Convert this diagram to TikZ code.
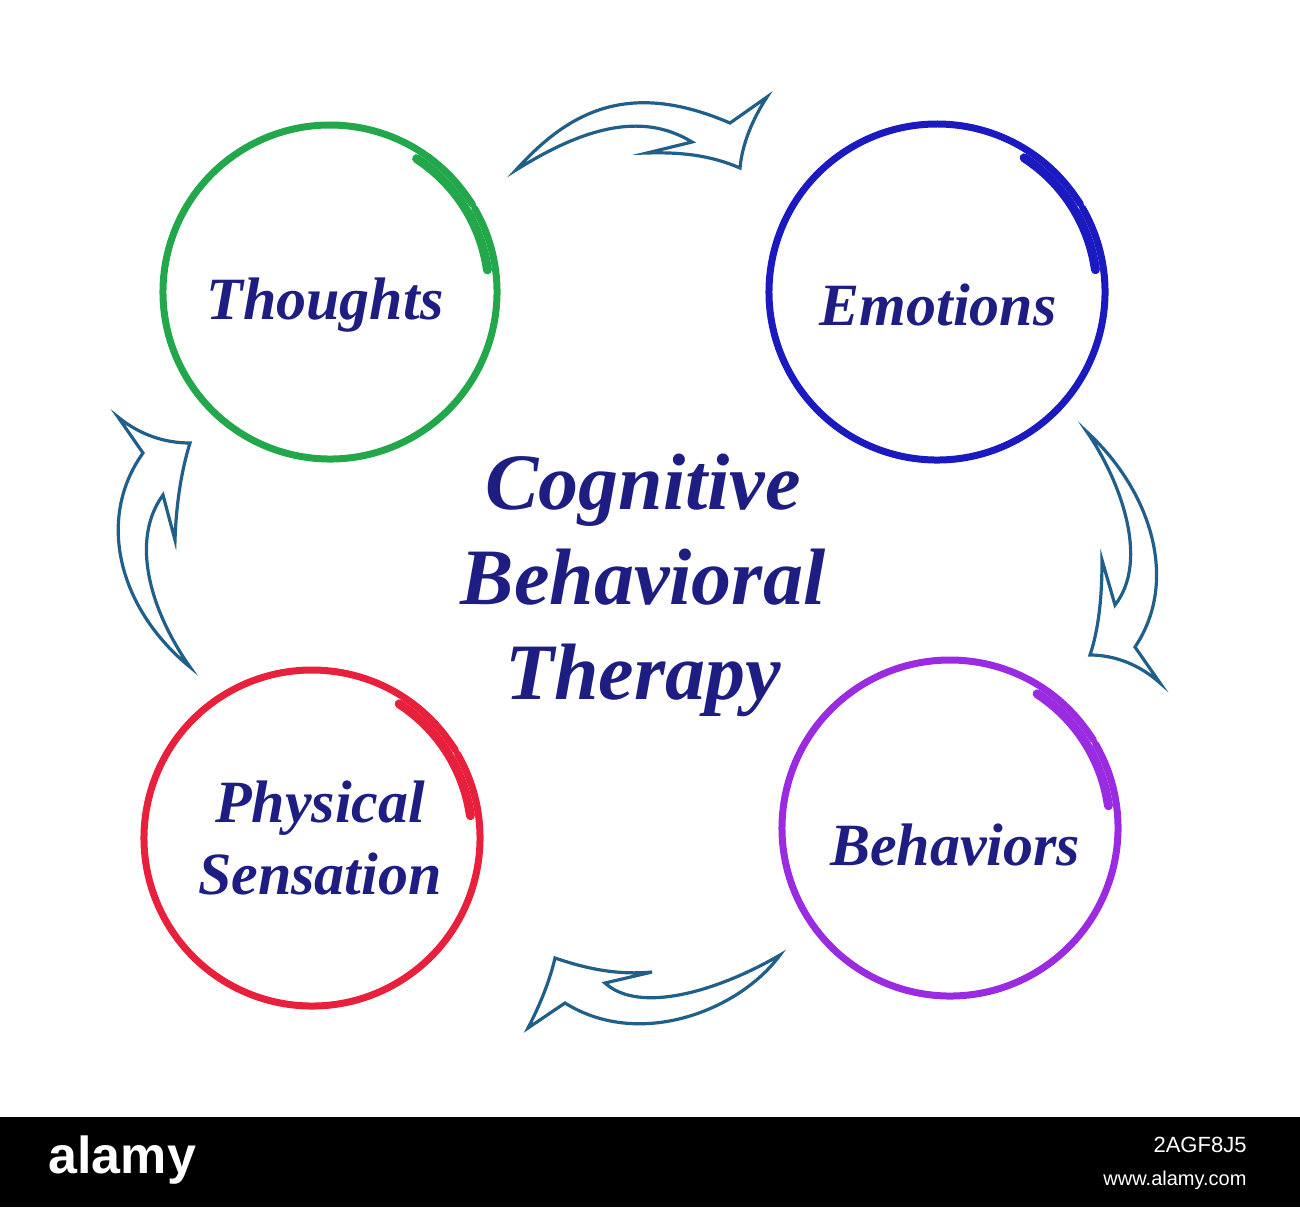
\documentclass[tikz,border=0pt]{standalone}
\usepackage{fontspec}
\setmainfont{Liberation Serif}
\newfontfamily\wmfont{Liberation Sans}
\begin{document}
\begin{tikzpicture}[x=1pt,y=-1pt,
  lbl/.style={text=navy,font=\bfseries\itshape\fontsize{60}{72}\selectfont,align=center},
  blk/.style={draw=teal2,line width=3.2pt,line join=miter,fill=white},
  ring/.style={line width=7pt,line cap=round}]
\definecolor{navy}{HTML}{1E1E82}
\definecolor{teal2}{HTML}{1F5F8A}
\definecolor{cg}{HTML}{22A84A}
\definecolor{cb}{HTML}{1A1AC0}
\definecolor{cp}{HTML}{9A2BE0}
\definecolor{cr}{HTML}{E8203C}
\useasboundingbox (0,0) rectangle (1300,1207);
\fill[white] (0,0) rectangle (1300,1207);
% circles
\foreach \cx/\cy/\r/\c/\nm in {330/292/167/cg/t, 937/292/168/cb/e, 950/828/168/cp/b, 312/838/168/cr/p}{
  \coordinate (\nm) at (\cx,\cy);
  \draw[\c,ring] (\nm) ++(-30:\r) arc[start angle=-30,end angle=320,radius=\r]
     arc[start angle=320,end angle=325,radius=\r] -- ++(55:10);
  \draw[\c,line width=9pt,line cap=round] (\nm) ++(-57:\r-8) arc[start angle=-57,end angle=-8,radius=\r-8];
}
\node[lbl] (tn) at (325,305) {Thoughts};
\node[lbl] (en) at (938,305) {Emotions};
\node[lbl] (bn) at (955,845) {Behaviors};
\node[lbl] (pn) at (320,838) {Physical\\Sensation};
\node[lbl,font=\bfseries\itshape\fontsize{80}{95}\selectfont] (cbt) at (643,585) {Cognitive\\Behavioral\\Therapy};
% top arrow
\draw[blk] (516,170) .. controls (570,110) and (630,80) .. (730,123) -- (767,97)
  .. controls (752,120) and (742,145) .. (740,168) .. controls (710,155) and (680,152) .. (647,153)
  -- (692,142) .. controls (640,110) and (580,130) .. cycle;
% right arrow
\draw[blk] (1087,432) .. controls (1150,490) and (1180,580) .. (1135,647) -- (1160,683)
  .. controls (1140,665) and (1115,655) .. (1090,655) .. controls (1100,625) and (1102,590) .. (1102,560)
  -- (1115,605) .. controls (1150,560) and (1120,480) .. cycle;
% bottom arrow
\draw[blk] (780,955) .. controls (740,1010) and (640,1050) .. (565,1003) -- (528,1028)
  .. controls (540,1005) and (550,980) .. (555,958) .. controls (590,970) and (620,975) .. (652,972)
  -- (605,983) .. controls (640,1015) and (720,990) .. cycle;
% left arrow
\draw[blk] (190,667) .. controls (120,610) and (95,520) .. (143,453) -- (118,417)
  .. controls (140,435) and (165,443) .. (190,443) .. controls (180,475) and (176,510) .. (175,540)
  -- (163,495) .. controls (130,540) and (150,610) .. cycle;
% watermark bar
\fill[black] (0,1117) rectangle (1300,1207);
\node[text=white,font=\wmfont\bfseries\fontsize{52}{56}\selectfont,anchor=west] (wm) at (45,1160) {alamy};
\node[text=white,font=\wmfont\fontsize{22}{26}\selectfont,anchor=east] (id) at (1250,1145) {2AGF8J5};
\node[text=white,font=\wmfont\fontsize{20}{24}\selectfont,anchor=east] (url) at (1250,1180) {www.alamy.com};
\end{tikzpicture}
\end{document}
